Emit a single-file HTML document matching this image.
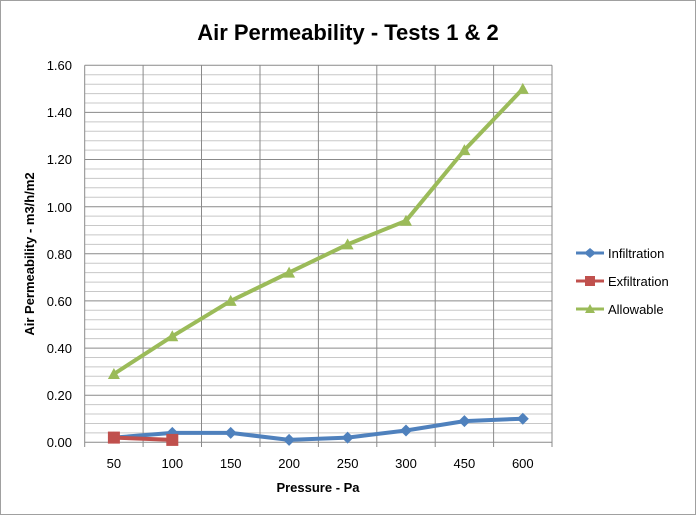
<!DOCTYPE html><html><head><style>body{margin:0;background:#fff}svg{display:block;font-family:"Liberation Sans",Arial,sans-serif}</style></head><body>
<svg width="696" height="515" viewBox="0 0 696 515">
<rect x="0.5" y="0.5" width="695" height="514" fill="#fff" stroke="#a0a0a0"/>
<text x="348" y="40" text-anchor="middle" font-size="22" font-weight="bold" fill="#000">Air Permeability - Tests 1 &amp; 2</text>
<path stroke="#c8c8c8" stroke-width="1" fill="none" d="M84.7 432.9H552M84.7 423.45H552M84.7 414H552M84.7 404.6H552M84.7 385.8H552M84.7 376.3H552M84.7 366.9H552M84.7 357.5H552M84.7 338.6H552M84.7 329.2H552M84.7 319.8H552M84.7 310.3H552M84.7 291.5H552M84.7 282.1H552M84.7 272.6H552M84.7 263.2H552M84.7 244.4H552M84.7 234.9H552M84.7 225.5H552M84.7 216.1H552M84.7 197.2H552M84.7 187.8H552M84.7 178.4H552M84.7 169H552M84.7 150.1H552M84.7 140.7H552M84.7 131.3H552M84.7 121.9H552M84.7 103H552M84.7 93.6H552M84.7 84.2H552M84.7 74.7H552"/>
<path stroke="#8a8a8a" stroke-width="1" fill="none" d="M84.7 442.3H552M84.7 395.2H552M84.7 348.1H552M84.7 300.9H552M84.7 253.8H552M84.7 206.7H552M84.7 159.5H552M84.7 112.4H552M84.7 65.3H552M84.7 65.3V447M143.1 65.3V447M201.5 65.3V447M260 65.3V447M318.4 65.3V447M376.8 65.3V447M435.2 65.3V447M493.6 65.3V447M552 65.3V447"/>
<g font-size="13" text-anchor="end">
<text x="72" y="447">0.00</text><text x="72" y="400">0.20</text><text x="72" y="353">0.40</text><text x="72" y="306">0.60</text><text x="72" y="259">0.80</text><text x="72" y="212">1.00</text><text x="72" y="164">1.20</text><text x="72" y="117">1.40</text><text x="72" y="70">1.60</text>
</g>
<g font-size="13" text-anchor="middle">
<text x="113.9" y="468">50</text><text x="172.3" y="468">100</text><text x="230.7" y="468">150</text><text x="289.1" y="468">200</text><text x="347.6" y="468">250</text><text x="406" y="468">300</text><text x="464.4" y="468">450</text><text x="522.8" y="468">600</text>
</g>
<polyline fill="none" stroke="#9bbb59" stroke-width="4" stroke-linejoin="round" points="113.9,374 172.3,336.3 230.7,300.9 289.1,272.6 347.6,244.4 406,220.8 464.4,150.1 522.8,88.9"/>
<g fill="#9bbb59">
<polygon points="107.9,379 119.9,379 113.9,368"/><polygon points="166.3,341.3 178.3,341.3 172.3,330.3"/><polygon points="224.7,305.9 236.7,305.9 230.7,294.9"/><polygon points="283.1,277.6 295.1,277.6 289.1,266.6"/><polygon points="341.6,249.4 353.6,249.4 347.6,238.4"/><polygon points="400,225.8 412,225.8 406,214.8"/><polygon points="458.4,155.1 470.4,155.1 464.4,144.1"/><polygon points="516.8,93.9 528.8,93.9 522.8,82.9"/>
</g>
<polyline fill="none" stroke="#4f81bd" stroke-width="4" stroke-linejoin="round" points="113.9,437.6 172.3,432.9 230.7,432.9 289.1,439.9 347.6,437.6 406,430.5 464.4,421.1 522.8,418.7"/>
<g fill="#4f81bd">
<polygon points="107.9,437.6 113.9,431.6 119.9,437.6 113.9,443.6"/><polygon points="166.3,432.9 172.3,426.9 178.3,432.9 172.3,438.9"/><polygon points="224.7,432.9 230.7,426.9 236.7,432.9 230.7,438.9"/><polygon points="283.1,439.9 289.1,433.9 295.1,439.9 289.1,445.9"/><polygon points="341.6,437.6 347.6,431.6 353.6,437.6 347.6,443.6"/><polygon points="400,430.5 406,424.5 412,430.5 406,436.5"/><polygon points="458.4,421.1 464.4,415.1 470.4,421.1 464.4,427.1"/><polygon points="516.8,418.7 522.8,412.7 528.8,418.7 522.8,424.7"/>
</g>
<polyline fill="none" stroke="#c0504d" stroke-width="4" points="113.9,437.6 172.3,439.9"/>
<rect x="107.9" y="431.6" width="12" height="12" fill="#c0504d"/><rect x="166.3" y="433.9" width="12" height="12" fill="#c0504d"/>
<g font-size="13">
<line x1="576" x2="604" y1="253" y2="253" stroke="#4f81bd" stroke-width="3"/><polygon points="584,253 590,248 596,253 590,258" fill="#4f81bd"/><text x="608" y="258">Infiltration</text>
<line x1="576" x2="604" y1="281" y2="281" stroke="#c0504d" stroke-width="3"/><rect x="585" y="276" width="10" height="10" fill="#c0504d"/><text x="608" y="286">Exfiltration</text>
<line x1="576" x2="604" y1="309" y2="309" stroke="#9bbb59" stroke-width="3"/><polygon points="585,313 595,313 590,304" fill="#9bbb59"/><text x="608" y="314">Allowable</text>
</g>
<text x="318" y="492" text-anchor="middle" font-size="13" font-weight="bold">Pressure - Pa</text>
<text transform="translate(34,254) rotate(-90)" text-anchor="middle" font-size="13" font-weight="bold">Air Permeability - m3/h/m2</text>
</svg></body></html>
